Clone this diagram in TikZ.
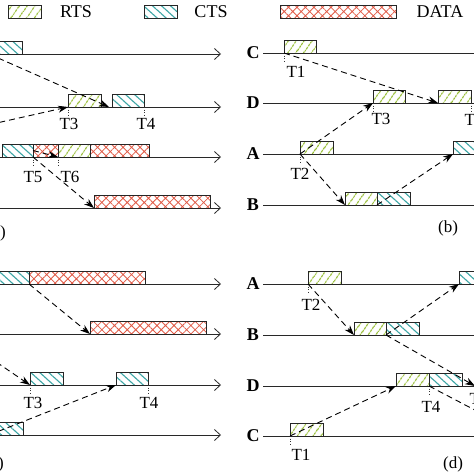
\documentclass[tikz,border=0pt]{standalone}
\usepackage{fontspec}
\setmainfont{Liberation Serif}
\usetikzlibrary{patterns.meta,arrows.meta}
\definecolor{rtsc}{RGB}{145,185,40}
\definecolor{ctsc}{RGB}{60,165,165}
\definecolor{datac}{RGB}{225,90,70}
\definecolor{linec}{RGB}{40,40,40}
\tikzset{
 tl/.style={draw=linec, line width=0.8pt, -{Straight Barb[length=6pt,width=11pt,line width=0.8pt]}},
 bx/.style={draw=black!85, line width=0.7pt, minimum height=13pt, inner sep=0pt, outer sep=0pt, anchor=south west},
 rts/.style={bx, pattern={Lines[angle=55,distance=6.5pt,line width=1.1pt]}, pattern color=rtsc},
 cts/.style={bx, pattern={Lines[angle=-42,distance=6pt,line width=1.1pt]}, pattern color=ctsc},
 dat/.style={bx, pattern={Hatch[angle=45,distance=6pt,line width=0.8pt]}, pattern color=datac},
 msg/.style={draw=black, line width=0.9pt, dash pattern=on 6pt off 4pt, -{Stealth[length=10pt,width=7pt]}},
 tickl/.style={draw=black!80, line width=0.6pt, dotted},
 tlab/.style={font=\fontsize{17}{17}\selectfont, inner sep=0pt},
 sta/.style={font=\bfseries\fontsize{18}{18}\selectfont, inner sep=0pt},
 leg/.style={font=\fontsize{18}{18}\selectfont, inner sep=0pt},
 pan/.style={font=\fontsize{17}{17}\selectfont, inner sep=0pt},
}
\begin{document}
\begin{tikzpicture}[x=1pt,y=-1pt]
\clip (0,0) rectangle (474,474);
\fill[white] (0,0) rectangle (474,474);
% ---------- legend ----------
\node[rts, minimum width=33pt] (lr) at (8,18) {};
\node[leg] (lrt) at (76,12) {RTS};
\node[cts, minimum width=33pt] (lc) at (144,18) {};
\node[leg] (lct) at (211,12) {CTS};
\node[dat, minimum width=116pt] (ld) at (280,18) {};
\node[leg] (ldt) at (440,12) {DATA};

% ---------- panel (a) ----------
\coordinate (a1s) at (-20,54);  \coordinate (a1e) at (221,54);
\coordinate (a2s) at (-20,107); \coordinate (a2e) at (221,107);
\coordinate (a3s) at (-20,157); \coordinate (a3e) at (221,157);
\coordinate (a4s) at (-20,208); \coordinate (a4e) at (221,208);
\foreach \i in {1,2,3,4} \draw[tl] (a\i s) -- (a\i e);
\node[cts, minimum width=33pt] (a1c) at (-11,54) {};
\node[rts, minimum width=33pt] (a2r) at (68,107) {};
\node[cts, minimum width=32pt] (a2c) at (112,107) {};
\node[cts, minimum width=31pt] (a3c) at (2,157) {};
\node[dat, minimum width=25pt] (a3d1) at (33,157) {};
\node[rts, minimum width=32pt] (a3r) at (58,157) {};
\node[dat, minimum width=59pt] (a3d2) at (90,157) {};
\node[dat, minimum width=116pt] (a4d) at (94,208) {};
\coordinate (a2t3b) at (68,116); \coordinate (a2t4b) at (144,116);
\draw[tickl] (a2r.south west) -- (a2t3b);
\draw[tickl] (a2c.south east) -- (a2t4b);
\coordinate (a3t5b) at (33,166); \coordinate (a3t6b) at (58,166);
\draw[tickl] (a3d1.south west) -- (a3t5b);
\draw[tickl] (a3r.south west) -- (a3t6b);
\node[tlab] (aT3) at (69,124) {T3};
\node[tlab] (aT4) at (146,124) {T4};
\node[tlab] (aT5) at (33,177) {T5};
\node[tlab] (aT6) at (70,177) {T6};
\coordinate (a2tip) at (109,107);
\coordinate (a0) at (-30,129);
\draw[msg] (a1c.south west) -- (a2tip);
\draw[msg] (a0) -- (a2r.south west);
\draw[msg] (a3d1.west) -- (a3r.south west);
\draw[msg] (a3d1.south west) -- (a4d.south west);
\node[pan, anchor=east] (pa) at (6,233) {(a)};

% ---------- panel (b) ----------
\node[sta] (bC) at (253,53) {C};
\node[sta] (bD) at (253,103) {D};
\node[sta] (bA) at (253,154) {A};
\node[sta] (bB) at (253,205) {B};
\coordinate (bCs) at (263,53);  \coordinate (bCe) at (500,53);
\coordinate (bDs) at (263,103); \coordinate (bDe) at (500,103);
\coordinate (bAs) at (263,154); \coordinate (bAe) at (500,154);
\coordinate (bBs) at (263,205); \coordinate (bBe) at (500,205);
\foreach \i in {C,D,A,B} \draw[tl] (b\i s) -- (b\i e);
\node[rts, minimum width=32pt] (bcr) at (284,53) {};
\node[rts, minimum width=32pt] (bdr1) at (373,103) {};
\node[rts, minimum width=33pt] (bdr2) at (438,103) {};
\node[rts, minimum width=33pt] (bar) at (300,154) {};
\node[cts, minimum width=33pt] (bac) at (453,154) {};
\node[rts, minimum width=32pt] (bbr) at (345,205) {};
\node[cts, minimum width=33pt] (bbc) at (377,205) {};
\coordinate (bt1) at (284,63); \coordinate (bt3) at (373,112);
\coordinate (bt4) at (471,112); \coordinate (bt2) at (300,163);
\draw[tickl] (bcr.south west) -- (bt1);
\draw[tickl] (bdr1.south west) -- (bt3);
\draw[tickl] (bdr2.south east) -- (bt4);
\draw[tickl] (bar.south west) -- (bt2);
\node[tlab] (bT1) at (296,72) {T1};
\node[tlab] (bT3) at (381,119) {T3};
\node[tlab] (bT4) at (474,120) {T4};
\node[tlab] (bT2) at (300,174) {T2};
\draw[msg] (bcr.south west) -- (bdr2.south west);
\draw[msg] (bar.south west) -- (bdr1.south west);
\draw[msg] (bar.south west) -- (bbr.south west);
\draw[msg] (bbc.south west) -- (bac.south west);
\node[pan] (pb) at (448,228) {(b)};

% ---------- panel (c) ----------
\coordinate (c1s) at (-20,284); \coordinate (c1e) at (221,284);
\coordinate (c2s) at (-20,334); \coordinate (c2e) at (221,334);
\coordinate (c3s) at (-20,385); \coordinate (c3e) at (221,385);
\coordinate (c4s) at (-20,435); \coordinate (c4e) at (221,435);
\foreach \i in {1,2,3,4} \draw[tl] (c\i s) -- (c\i e);
\node[cts, minimum width=40pt] (c1c) at (-11,284) {};
\node[dat, minimum width=116pt] (c1d) at (29,284) {};
\node[dat, minimum width=116pt] (c2d) at (90,334) {};
\node[cts, minimum width=33pt] (c3c1) at (30,385) {};
\node[cts, minimum width=32pt] (c3c2) at (116,385) {};
\node[cts, minimum width=34pt] (c4c) at (-11,435) {};
\coordinate (ct3) at (30,394); \coordinate (ct4) at (148,394);
\draw[tickl] (c3c1.south west) -- (ct3);
\draw[tickl] (c3c2.south east) -- (ct4);
\node[tlab] (cT3) at (33,403) {T3};
\node[tlab] (cT4) at (149,403) {T4};
\coordinate (c0) at (-45,334);
\draw[msg] (c1d.south west) -- (c2d.south west);
\draw[msg] (c0) -- (c3c1.south west);
\draw[msg] (c4c.south west) -- (c3c2.south west);
\node[pan, anchor=east] (pc) at (4,464) {(c)};

% ---------- panel (d) ----------
\node[sta] (dA) at (253,284) {A};
\node[sta] (dB) at (253,335) {B};
\node[sta] (dD) at (253,386) {D};
\node[sta] (dC) at (253,436) {C};
\coordinate (dAs) at (263,284); \coordinate (dAe) at (500,284);
\coordinate (dBs) at (263,335); \coordinate (dBe) at (500,335);
\coordinate (dDs) at (263,386); \coordinate (dDe) at (500,386);
\coordinate (dCs) at (263,436); \coordinate (dCe) at (500,436);
\foreach \i in {A,B,D,C} \draw[tl] (d\i s) -- (d\i e);
\node[rts, minimum width=33pt] (dar) at (308,284) {};
\node[cts, minimum width=33pt] (dac) at (459,284) {};
\node[rts, minimum width=32pt] (dbr) at (354,335) {};
\node[cts, minimum width=33pt] (dbc) at (386,335) {};
\node[rts, minimum width=33pt] (ddr) at (396,386) {};
\node[cts, minimum width=33pt] (ddc) at (429,386) {};
\node[rts, minimum width=33pt] (dcr) at (290,436) {};
\coordinate (dt2) at (308,293); \coordinate (dt4) at (429,395); \coordinate (dt1) at (290,446);
\draw[tickl] (dar.south west) -- (dt2);
\draw[tickl] (ddc.south west) -- (dt4);
\draw[tickl] (dcr.south west) -- (dt1);
\node[tlab] (dT2) at (311,305) {T2};
\node[tlab] (dT4) at (431,407) {T4};
\node[tlab] (dT1) at (301,455) {T1};
\node[tlab] (dT5) at (479,399) {T5};
\coordinate (dx1) at (475,386);
\coordinate (dx2) at (490,418);
\draw[msg] (dar.south west) -- (dbr.south west);
\draw[msg] (dbc.south west) -- (dac.south west);
\draw[msg] (dbc.south west) -- (dx1);
\draw[msg] (dcr.south west) -- (ddr.south west);
\draw[msg] (ddc.south west) -- (dx2);
\node[pan] (pd) at (453,464) {(d)};
\end{tikzpicture}
\end{document}
